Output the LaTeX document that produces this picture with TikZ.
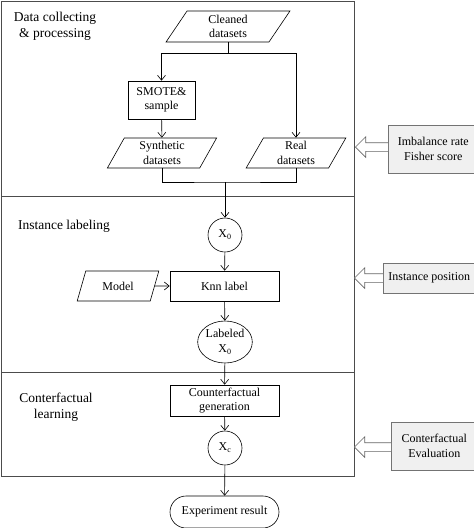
\documentclass[tikz,border=0pt]{standalone}
\usepackage{fontspec}
\setmainfont{Liberation Serif}
\usetikzlibrary{arrows.meta, shapes.geometric, shapes.arrows, calc}
\newcommand{\boxfont}{\fontsize{12}{14.5}\selectfont}
\newcommand{\phasefont}{\fontsize{13.5}{16}\selectfont}

\tikzset{
  every path/.style = {line width=0.6pt},
  flow/.style = {-{Straight Barb[length=5pt,width=8pt]}},
  io/.style = {trapezium, trapezium left angle=67, trapezium right angle=113,
    trapezium stretches=true, draw, align=center, font=\boxfont, inner sep=1pt},
  procbox/.style = {rectangle, draw, align=center, font=\boxfont, inner sep=1pt},
  state/.style = {circle, draw, minimum size=34pt, inner sep=0pt, font=\boxfont},
  phase/.style = {align=center, font=\phasefont},
  metric/.style = {rectangle, draw=black!55, fill=black!6, align=center, anchor=west,
    font=\boxfont, inner sep=1pt},
  hollow/.style = {single arrow, draw=black!60, fill=white, shape border rotate=180,
    single arrow head extend=6pt, single arrow head indent=0pt, inner sep=4pt, anchor=tip}
}

\begin{document}
\begin{tikzpicture}[x=1pt, y=-1pt]
\useasboundingbox (0,0) rectangle (474,528);

% frame of the three phases
\draw[black!70] (1,1) rectangle (354,476);
\draw[black!70] (1,196) -- (354,196);
\draw[black!70] (1,372) -- (354,372);

\node[phase] (p1) at (55,26) {Data collecting\\\& processing};
\node[phase] (p2) at (64,226) {Instance labeling};
\node[phase] (p3) at (56,407) {Conterfactual\\learning};

% data collecting
\node[io, minimum width=124pt, minimum height=31pt] (clean) at (228,26.5) {Cleaned\\datasets};
\node[procbox, minimum width=67pt, minimum height=38pt] (smote) at (161.5,100) {SMOTE\&\\sample};
\node[io, minimum width=110pt, minimum height=30pt] (synth) at (162,153) {Synthetic\\datasets};
\node[io, minimum width=100pt, minimum height=30pt] (real) at (296,153) {Real\\datasets};
\coordinate (merge) at (225,182);

\draw[flow] (clean.south) -- ++(0,11) -| (smote.north);
\draw[flow] (clean.south) -- ++(0,11) -| (real.north);
\draw[flow] (smote) -- (synth);
\draw (synth.south) |- (merge) -| (real.south);

% instance labeling
\node[state] (x0) at (225,235) {X\textsubscript{0}};
\node[procbox, minimum width=109pt, minimum height=30pt] (knn) at (224.5,286) {Knn label};
\node[io, minimum width=82pt, minimum height=30pt] (model) at (118,286) {Model};
\node[ellipse, draw, minimum width=52pt, minimum height=42pt, inner sep=0pt,
  align=center, font=\boxfont] (labeled) at (225,342) {Labeled\\X\textsubscript{0}};

\draw[flow] (merge) -- (x0.north);
\draw[flow] (x0) -- (knn);
\draw[flow] (model.east) -- (knn.west);
\draw[flow] (knn) -- (labeled);

% counterfactual learning
\node[procbox, minimum width=109pt, minimum height=31pt] (cfgen) at (224.5,400.5) {Counterfactual\\generation};
\node[state] (xc) at (225,448) {X\textsubscript{c}};
\node[procbox, rounded corners=16pt, minimum width=109pt, minimum height=32pt] (result) at (224.5,512) {Experiment result};

\draw[flow] (labeled) -- (cfgen);
\draw[flow] (cfgen) -- (xc);
\draw[flow] (xc) -- (result);

% evaluation inputs
\node[metric, minimum width=90pt, minimum height=48pt] (imb) at (388,149) {Imbalance rate\\Fisher score};
\node[metric, minimum width=92pt, minimum height=30pt] (pos) at (383,278) {Instance position};
\node[metric, minimum width=86pt, minimum height=48pt] (eval) at (391,446) {Conterfactual\\Evaluation};

\coordinate (t1) at (355,147);
\coordinate (t2) at (354,278);
\coordinate (t3) at (354,447);
\node[hollow, minimum height=33pt] (a1) at (t1) {};
\node[hollow, minimum height=29pt] (a2) at (t2) {};
\node[hollow, minimum height=37pt] (a3) at (t3) {};
\end{tikzpicture}
\end{document}
